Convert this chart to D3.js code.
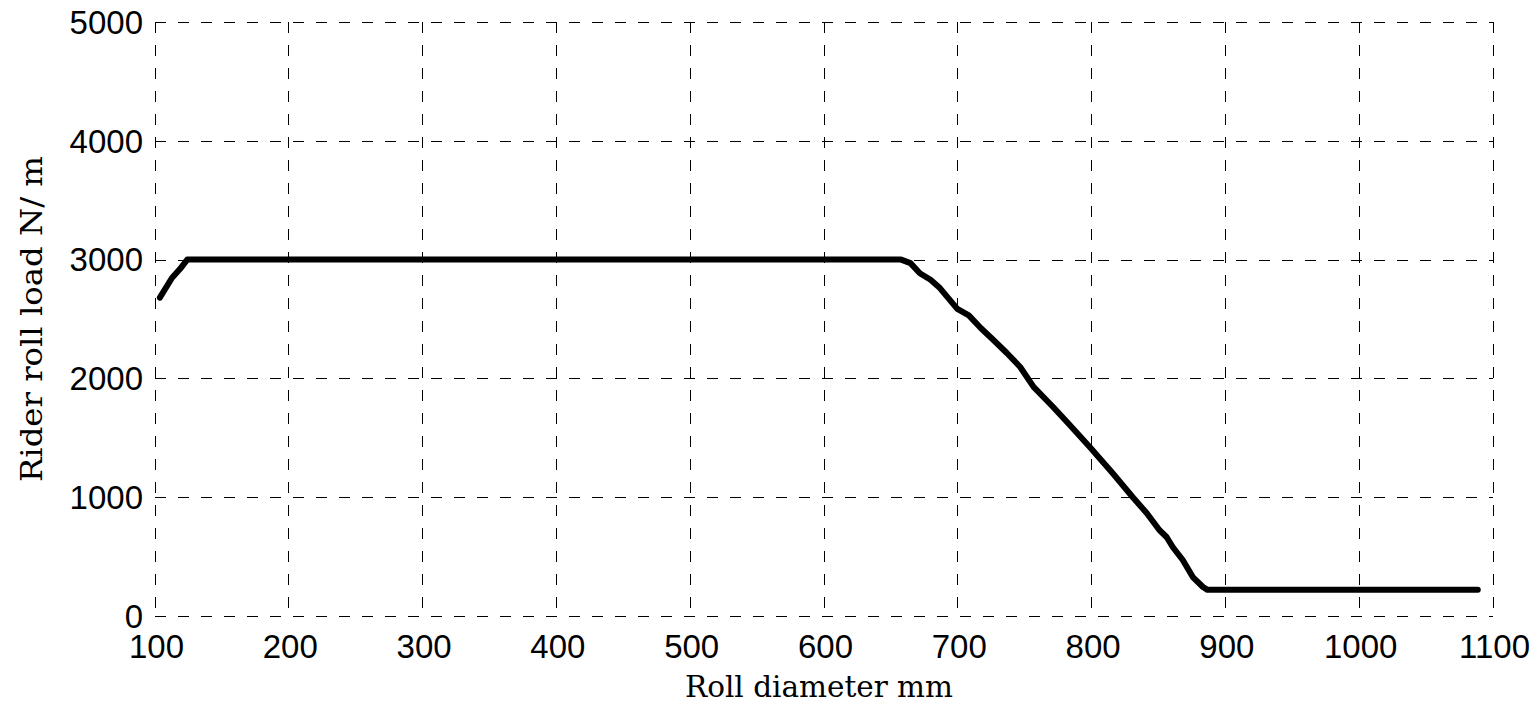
<!DOCTYPE html>
<html>
  <head>
    <style>
      body { margin: 0; background: #fff; }
      .grid line {
        stroke: #000;
        stroke-width: 1;
        stroke-dasharray: 11, 12;
        shape-rendering: crispEdges;
      }
      .tick-label {
        font-family: "Liberation Sans", Arial, sans-serif;
        font-size: 33px;
        fill: #000;
      }
      .axis-label {
        font-family: "DejaVu Serif", "Liberation Serif", serif;
        font-size: 29px;
        fill: #000;
      }
    </style>
  </head>
  <body>
    <svg width="1534" height="717"></svg>
    <script src="https://d3js.org/d3.v7.min.js"></script>
    <script>
      // roll diameter (mm) vs rider roll load (N/m)
      var diameter = [104, 113, 119, 124.5, 658, 665, 672, 680, 687, 700, 708.6, 717.5, 727, 737, 747, 757,
                      771.6, 782, 799, 816, 831, 841.5, 851, 856.4, 861, 868.5, 876, 883.6, 887, 1089];
      var load = [2680, 2845, 2920, 3000, 3000, 2970, 2885, 2830, 2760, 2585, 2530, 2424, 2323, 2214, 2096, 1928,
                  1759, 1633, 1423, 1204, 1002, 867, 724, 665, 581, 471, 328, 244, 220, 220];

      var xTicks = [100, 200, 300, 400, 500, 600, 700, 800, 900, 1000, 1100];
      var yTicks = [0, 1000, 2000, 3000, 4000, 5000];

      var xLabel = "Roll diameter mm";
      var yLabel = "Rider roll load N/ m";

      var svg = d3.select("svg");

      var x = d3.scaleLinear()
        .domain([100, 1100])
        .range([154.5, 1492.5]);

      var y = d3.scaleLinear()
        .domain([0, 5000])
        .range([616, 22]);

      // dashed grid, the outer lines double as the frame
      var grid = svg.append("g").attr("class", "grid");

      grid.selectAll(".v")
        .data(xTicks)
        .enter().append("line")
          .attr("class", "v")
          .attr("x1", function(d) { return Math.round(x(d)) + 0.5; })
          .attr("x2", function(d) { return Math.round(x(d)) + 0.5; })
          .attr("y1", y(5000))
          .attr("y2", y(0));

      grid.selectAll(".h")
        .data(yTicks)
        .enter().append("line")
          .attr("class", "h")
          .attr("y1", function(d) { return Math.round(y(d)) + 0.5; })
          .attr("y2", function(d) { return Math.round(y(d)) + 0.5; })
          .attr("x1", x(100))
          .attr("x2", x(1100));

      svg.append("g").selectAll("text")
        .data(xTicks)
        .enter().append("text")
          .attr("class", "tick-label")
          .attr("x", function(d) { return x(d) + 2; })
          .attr("y", 658)
          .attr("text-anchor", "middle")
          .text(function(d) { return d; });

      svg.append("g").selectAll("text")
        .data(yTicks)
        .enter().append("text")
          .attr("class", "tick-label")
          .attr("x", 143)
          .attr("y", function(d) { return y(d); })
          .attr("dy", "0.36em")
          .attr("text-anchor", "end")
          .text(function(d) { return d; });

      var line = d3.line()
        .x(function(d) { return x(d[0]); })
        .y(function(d) { return y(d[1]); });

      svg.append("path")
        .datum(d3.zip(diameter, load))
        .attr("fill", "none")
        .attr("stroke", "#000")
        .attr("stroke-width", 6)
        .attr("stroke-linejoin", "round")
        .attr("stroke-linecap", "round")
        .attr("d", line);

      svg.append("text")
        .attr("class", "axis-label")
        .attr("x", 819)
        .attr("y", 697)
        .attr("text-anchor", "middle")
        .attr("textLength", 268)
        .attr("lengthAdjust", "spacingAndGlyphs")
        .text(xLabel);

      svg.append("text")
        .attr("class", "axis-label")
        .attr("transform", "translate(42," + ((y(0) + y(5000)) / 2 + 0) + ") rotate(-90)")
        .attr("text-anchor", "middle")
        .attr("textLength", 326)
        .attr("lengthAdjust", "spacingAndGlyphs")
        .text(yLabel);
    </script>
  </body>
</html>
